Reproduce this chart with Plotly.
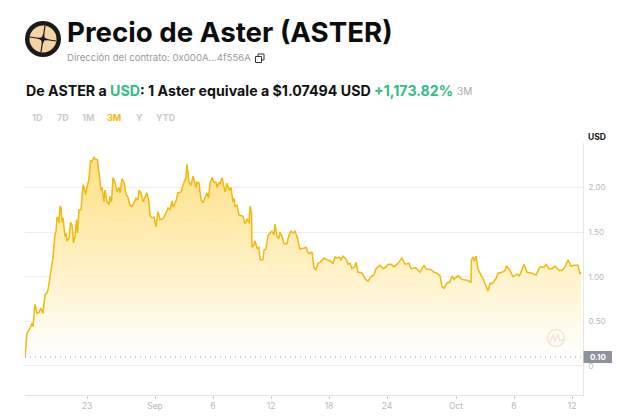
import plotly.graph_objects as go

# Ordinal sample step on the 3M axis, and ASTER price in USD
steps = [
    0,1,2,3,5,7,8,10,12,14,16,18,
    20,22,23,26,28,30,31,32,33,34,35,36,
    37,38,40,41,42,44,45.5,47,48.5,50,51.5,52.5,
    54,56,58,59,60.5,62,64,65.5,67,69,70,72.5,
    74.5,76,77,79,80,82,84,85,86.5,88,90,92,
    94,95,97,99,101,103,105,107,109,111,113,114,
    116,117,118,120,122,124,125,127,129,131,133,135,
    138,140,143,145,147,148,151,153,156,159,161,162,
    164,166,168,171,172,174,176,178,180,182,183.5,185,
    187,189,191,192,194,195,197,200,202,204,206,208,
    209,210,212,214,218,220,222,224,225,226.5,227,229,
    230,232,234,235,238,239,241,243,245,247,249,250,
    252,254,255,257,259,262,264,266,268,270,272,275,
    277,279,281,283,285,287,289,291,293,296,299,302,
    305,308,310,312,314,316,318,321,323,325,327,330,
    331,333,335,337,340,343,346,349,351,355,358,361,
    363,366,369,373,377,380,384,386,391,395,399,401,
    406,409,412,415,417,419,422,425,427,429,433,437,
    442,446,446.5,448,449.5,451,453,455,458,460,463,465,
    467,471,473,477,480,481.5,485,488,492,494.5,498,499,
    502,507,511,515,519,521,524,527,530,534,537,540,
    543,546,550,553,555,556,
]
price_usd = [
    .10,.29,.37,.39,.42,.48,.44,.69,.59,.60,.65,.59,
    .80,.82,.85,1.07,1.22,1.48,1.50,1.67,1.66,1.60,1.79,1.78,
    1.61,1.66,1.45,1.49,1.40,1.43,1.61,1.58,1.38,1.45,1.64,1.49,
    1.75,1.75,2.03,2.00,1.92,2.00,2.10,2.30,2.29,2.34,2.32,2.31,
    2.08,1.97,2.00,1.84,1.97,1.84,1.81,1.90,1.84,2.11,2.06,1.95,
    2.00,1.94,2.10,2.06,1.93,1.89,1.80,1.79,1.83,1.88,1.86,1.97,
    1.94,1.90,1.84,1.89,1.94,1.84,1.69,1.66,1.67,1.56,1.73,1.64,
    1.65,1.69,1.77,1.75,1.85,1.78,1.85,1.94,1.95,2.06,2.11,2.26,
    2.06,2.02,2.13,2.00,2.06,2.05,1.86,1.83,1.88,1.94,1.88,2.05,
    2.11,2.06,2.06,2.00,2.06,2.04,2.11,1.95,2.05,1.97,2.00,1.84,
    1.88,1.79,1.80,1.69,1.68,1.59,1.65,1.60,1.79,1.72,1.33,1.36,
    1.40,1.32,1.33,1.19,1.19,1.30,1.31,1.46,1.49,1.51,1.47,1.59,
    1.45,1.43,1.50,1.45,1.37,1.37,1.47,1.51,1.49,1.51,1.45,1.31,
    1.32,1.32,1.33,1.27,1.26,1.28,1.10,1.08,1.15,1.17,1.21,1.19,
    1.18,1.15,1.22,1.21,1.22,1.19,1.23,1.20,1.14,1.15,1.09,1.12,
    1.16,1.05,1.05,1.04,.98,.95,1.00,1.02,1.09,1.13,1.09,1.11,
    1.14,1.14,1.11,1.15,1.21,1.14,1.15,1.09,1.10,1.05,1.13,1.09,
    1.08,1.05,1.04,1.01,.89,.87,.93,.94,1.01,.97,1.01,.97,
    .96,.94,1.19,1.22,1.17,1.23,1.08,1.04,.98,.92,.84,.93,
    .92,.98,1.04,1.05,1.07,1.12,1.07,1.00,1.03,1.01,1.13,1.14,
    1.05,1.04,1.02,1.11,1.11,1.14,1.09,1.09,1.12,1.07,1.07,1.11,
    1.19,1.12,1.13,1.13,1.03,1.05,
]
assert len(steps) == len(price_usd)

x_tick_steps = [62, 130, 188, 246, 304, 362, 431, 489, 547]
x_tick_labels = ["23", "Sep", "6", "12", "18", "24", "Oct", "6", "12"]
y_tick_values = [0, 0.5, 1, 1.5, 2]
y_tick_labels = ["0", "0.50", "1.00", "1.50", "2.00"]
base_price = 0.10
range_buttons = ["1D", "7D", "1M", "3M", "Y", "YTD"]

# The page body adds an 8 px margin, so the figure starts at (8, 8) in the window.
OFF = 8
W, H = 607, 409
L, R, T, B = 17, 32, 135, 22
PW, PH = W - L - R, H - T - B
FONT = "Inter, 'Open Sans', sans-serif"


def px(x):
    return (x - OFF - L) / PW


def py(y):
    return 1 - (y - OFF - T) / PH


def circle(cx, cy, r, **kw):
    return dict(type="circle", xref="paper", yref="paper", x0=px(cx - r), x1=px(cx + r),
                y0=py(cy + r), y1=py(cy - r), **kw)


def rect(x0, y0, x1, y1, **kw):
    return dict(type="rect", xref="paper", yref="paper", x0=px(x0), x1=px(x1),
                y0=py(y1), y1=py(y0), **kw)


def path(points, close=False, **kw):
    d = "M " + " L ".join(f"{px(a):.5f} {py(b):.5f}" for a, b in points)
    return dict(type="path", xref="paper", yref="paper", path=d + (" Z" if close else ""), **kw)


def text(x, y, s, size, color="#000", anchor="left", bg=None):
    return dict(xref="paper", yref="paper", x=px(x), y=py(y), text=s, showarrow=False,
                xanchor=anchor, yanchor="middle", align="left", borderpad=0,
                font=dict(family=FONT, size=size, color=color), bgcolor=bg)


fig = go.Figure()
fig.add_trace(go.Scatter(x=[0, steps[-1]], y=[base_price, base_price], mode="lines",
                         line=dict(color="#9a9a9a", width=1, dash="1px,4px"), hoverinfo="skip"))
fig.add_trace(go.Scatter(
    x=steps, y=price_usd, mode="lines", fill="tonexty",
    line=dict(color="#F0B90B", width=1.5),
    fillgradient=dict(type="vertical", colorscale=[[0, "#FFFFFF"], [0.3, "#FFF6D8"], [0.7, "#FFE9A6"], [1, "#FFE088"]]),
))

shapes = [
    circle(43, 39, 18, fillcolor="#1a1a1a", line_width=0),
    circle(43, 39, 13.5, fillcolor="#F6D3A5", line_width=0),
    path([(45, 26), (41, 52)], line=dict(color="#1a1a1a", width=1.2)),
    path([(30, 37), (56, 41)], line=dict(color="#1a1a1a", width=1.2)),
    path([(44, 33), (44.6, 37.6), (49, 40), (44.4, 40.6), (42, 45), (41.4, 40.4), (37, 38), (41.6, 37.4)],
         close=True, fillcolor="#1a1a1a", line_width=0),
    rect(258, 54, 264, 60, line=dict(color="#333", width=1), fillcolor="white"),
    rect(255.5, 56.5, 261.5, 62.5, line=dict(color="#333", width=1), fillcolor="white"),
    circle(556, 338, 8.5, line=dict(color="#EDE7D3", width=1.5)),
    path([(550, 342), (553, 335), (555, 341), (558, 335), (560, 341), (563, 339)],
         line=dict(color="#EDE7D3", width=1.5)),
    rect(583.5, 351, 612, 363, fillcolor="#8E929C", line_width=0),
]

annotations = [
    text(66, 32, "<b>Precio de Aster (ASTER)</b>", 27.7, "#0d0d0d"),
    text(66, 58, "Dirección del contrato: 0x000A...4f556A", 9.6, "#9a9a9a"),
    text(25, 90, "<b>De ASTER a <span style='color:#2fbd85'>USD</span>: 1 Aster equivale a $1.07494 USD "
                 "<span style='color:#2fbd85'>+1,173.82%</span></b>", 14.2, "#111"),
    text(456, 91, "3M", 10, "#aaaaaa"),
    text(586.5, 137, "<b>USD</b>", 8.5, "#111"),
    text(589, 357, "<b>0.10</b>", 8, "white"),
]
for label, x in zip(range_buttons, [31, 56, 81, 106, 135, 155]):
    active = label == "3M"
    annotations.append(text(x, 118, f"<b>{label}</b>", 9, "#F0B90B" if active else "#cccccc"))

fig.update_layout(
    width=W, height=H, autosize=False,
    margin=dict(l=L, r=R, t=T, b=B),
    paper_bgcolor="white", plot_bgcolor="white", showlegend=False,
    font=dict(family=FONT),
    shapes=shapes, annotations=annotations,
    xaxis=dict(range=[0, 558], tickvals=x_tick_steps, ticktext=x_tick_labels,
               showgrid=False, zeroline=False, showline=True, linecolor="#e6e6e6", linewidth=1,
               ticks="outside", ticklen=3, tickcolor="#cccccc",
               tickfont=dict(size=8.5, color="#b8b8b8", family=FONT), automargin=False),
    yaxis=dict(range=[-0.325, 2.4986], side="right", tickvals=y_tick_values, ticktext=y_tick_labels,
               showgrid=True, gridcolor="#eeeeee", gridwidth=1, zeroline=False,
               showline=True, linecolor="#e6e6e6", linewidth=1,
               ticks="outside", ticklen=3, tickcolor="rgba(0,0,0,0)",
               tickfont=dict(size=8, color="#b8b8b8", family=FONT), automargin=False),
)
fig.write_html("out.html")
